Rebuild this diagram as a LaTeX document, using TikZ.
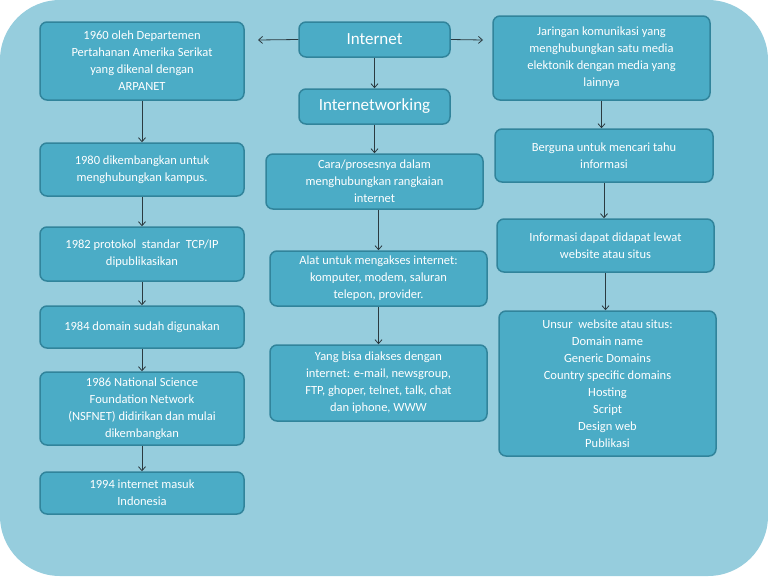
\documentclass[tikz,border=0pt]{standalone}
\usepackage{fontspec}
\usetikzlibrary{arrows.meta}
\setmainfont{Carlito}
\definecolor{bgc}{HTML}{96CDDD}
\definecolor{boxc}{HTML}{4BACC6}
\definecolor{bordc}{HTML}{31849B}
\definecolor{arrc}{HTML}{2B3A40}
\newcommand{\bb}[6]{\node[bx,minimum width={#4-#2},minimum height={#5-#3}] (#1) at ({(#2+#4)/2},{(#3+#5)/2}) {#6};}
\begin{document}
\begin{tikzpicture}[x=1pt,y=-1pt,
  bx/.style={draw=bordc,line width=1.5pt,fill=boxc,rounded corners=7pt,text=white,align=center,font=\fontsize{12.5}{17}\selectfont,inner sep=2pt},
  ar/.style={draw=arrc,line width=0.8pt,-{Straight Barb[length=4pt,width=7pt]}}]
\useasboundingbox (0,0) rectangle (768,576);
\fill[bgc,rounded corners=60pt] (0,0) rectangle (768,576);
\bb{a1}{40}{22}{244}{100}{1960 oleh Departemen\\Pertahanan Amerika Serikat\\yang dikenal dengan\\ARPANET}
\bb{a2}{40}{143}{244}{196}{1980 dikembangkan untuk\\menghubungkan kampus.}
\bb{a3}{40}{227}{244}{281}{1982 protokol\ \ standar\ \ TCP/IP\\dipublikasikan}
\bb{a4}{40}{306}{244}{348}{1984 domain sudah digunakan}
\bb{a5}{40}{372}{244}{445}{1986 National Science\\Foundation Network\\(NSFNET) didirikan dan mulai\\dikembangkan}
\bb{a6}{40}{472}{244}{514}{1994 internet masuk\\Indonesia}
\node[bx,minimum width=151,minimum height=35,font=\fontsize{17}{20}\selectfont] (m1) at (374.5,39.5) {Internet};
\node[bx,minimum width=151,minimum height=35,font=\fontsize{17}{20}\selectfont] (m2) at (374.5,106.5) {Internetworking};
\bb{m3}{266}{154}{483}{209}{Cara/prosesnya dalam\\menghubungkan rangkaian\\internet}
\bb{m4}{270}{251}{487}{306}{Alat untuk mengakses internet:\\komputer, modem, saluran\\telepon, provider.}
\bb{m5}{270}{345}{487}{421}{Yang bisa diakses dengan\\internet: e-mail, newsgroup,\\FTP, ghoper, telnet, talk, chat\\dan iphone, WWW}
\bb{r1}{493}{16}{710}{100}{Jaringan komunikasi yang\\menghubungkan satu media\\elektonik dengan media yang\\lainnya}
\bb{r2}{495}{129}{713}{182}{Berguna untuk mencari tahu\\informasi}
\bb{r3}{497}{219}{714}{272}{Informasi dapat didapat lewat\\website atau situs}
\bb{r4}{499}{311}{716}{456}{Unsur\ \ website atau situs:\\Domain name\\Generic Domains\\Country specific domains\\Hosting\\Script\\Design web\\Publikasi}
\coordinate (lt) at (258,40);
\coordinate (rt) at (483,40);
\draw[ar] (m1.west) -- (lt);
\draw[ar] (m1.east) -- (rt);
\draw[ar] (m1) -- (m2);
\draw[ar] (m2.south) -- (m2.south |- m3.north);
\draw[ar] (m3.south -| m4.north) -- (m4.north);
\draw[ar] (m4.south -| m5.north) -- (m5.north);
\draw[ar] (a1) -- (a2);
\draw[ar] (a2) -- (a3);
\draw[ar] (a3) -- (a4);
\draw[ar] (a4) -- (a5);
\draw[ar] (a5) -- (a6);
\draw[ar] (r1.south) -- (r1.south |- r2.north);
\draw[ar] (r2.south) -- (r2.south |- r3.north);
\draw[ar] (r3.south) -- (r3.south |- r4.north);
\end{tikzpicture}
\end{document}
